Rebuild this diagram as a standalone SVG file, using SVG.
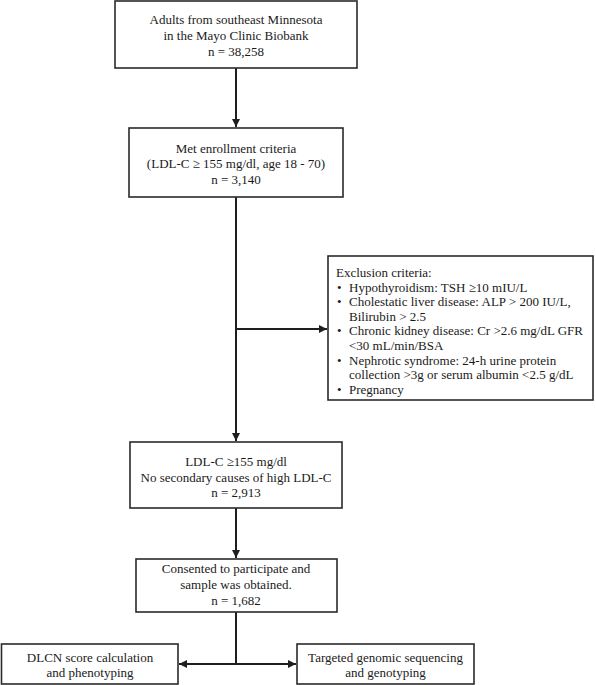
<svg xmlns="http://www.w3.org/2000/svg" width="596" height="685" viewBox="0 0 596 685">
<style>
.box{fill:#fff;stroke:#2a2a2a;stroke-width:1.6}
.t{font-family:"Liberation Serif","Times New Roman",serif;font-size:13px;fill:#1a1a1a}
.c{text-anchor:middle}
.ln{fill:none;stroke:#1e1e1e;stroke-width:2}
</style>
<defs>
<marker id="ah" viewBox="0 0 10 10" refX="10" refY="5" markerWidth="4" markerHeight="4" orient="auto-start-reverse" markerUnits="strokeWidth">
<path d="M0,0 L10,5 L0,10 z" fill="#1e1e1e"/>
</marker>
</defs>
<rect width="596" height="685" fill="#fff"/>
<g id="connectors">
<line class="ln" x1="236" y1="68" x2="236" y2="127" marker-end="url(#ah)"/>
<line class="ln" x1="236" y1="197" x2="236" y2="441" marker-end="url(#ah)"/>
<line class="ln" x1="236" y1="329" x2="327" y2="329" marker-end="url(#ah)"/>
<line class="ln" x1="236" y1="508" x2="236" y2="558" marker-end="url(#ah)"/>
<line class="ln" x1="236" y1="612" x2="236" y2="664"/>
<line class="ln" x1="179" y1="664" x2="296" y2="664" marker-start="url(#ah)" marker-end="url(#ah)"/>
</g>
<g id="n1">
<rect class="box" x="115" y="1" width="242" height="67"/>
<text class="t c" x="236" y="24">Adults from southeast Minnesota</text>
<text class="t c" x="236" y="40">in the Mayo Clinic Biobank</text>
<text class="t c" x="236" y="56">n = 38,258</text>
</g>
<g id="n2">
<rect class="box" x="129" y="128" width="214" height="69"/>
<text class="t c" x="236" y="153">Met enrollment criteria</text>
<text class="t c" x="236" y="168">(LDL-C ≥ 155 mg/dl, age 18 - 70)</text>
<text class="t c" x="236" y="184">n = 3,140</text>
</g>
<g id="exclusion">
<rect class="box" x="328" y="256" width="265" height="144"/>
<text class="t" x="336" y="277">Exclusion criteria:</text>
<text class="t" x="337" y="291.6">•</text><text class="t" x="349" y="291.6">Hypothyroidism: TSH ≥10 mIU/L</text>
<text class="t" x="337" y="306.2">•</text><text class="t" x="349" y="306.2">Cholestatic liver disease: ALP &gt; 200 IU/L,</text>
<text class="t" x="349" y="320.8">Bilirubin &gt; 2.5</text>
<text class="t" x="337" y="335.4">•</text><text class="t" x="349" y="335.4">Chronic kidney disease: Cr &gt;2.6 mg/dL GFR</text>
<text class="t" x="349" y="350">&lt;30 mL/min/BSA</text>
<text class="t" x="337" y="364.6">•</text><text class="t" x="349" y="364.6">Nephrotic syndrome: 24-h urine protein</text>
<text class="t" x="349" y="379.2">collection &gt;3g or serum albumin &lt;2.5 g/dL</text>
<text class="t" x="337" y="393.8">•</text><text class="t" x="349" y="393.8">Pregnancy</text>
</g>
<g id="n3">
<rect class="box" x="130" y="442" width="212" height="66"/>
<text class="t c" x="236" y="466">LDL-C ≥155 mg/dl</text>
<text class="t c" x="236" y="482">No secondary causes of high LDL-C</text>
<text class="t c" x="236" y="497">n = 2,913</text>
</g>
<g id="n4">
<rect class="box" x="136" y="559" width="201" height="53"/>
<text class="t c" x="236" y="573">Consented to participate and</text>
<text class="t c" x="236" y="589">sample was obtained.</text>
<text class="t c" x="236" y="605">n = 1,682</text>
</g>
<g id="n5">
<rect class="box" x="1.5" y="644" width="176.5" height="40"/>
<text class="t c" x="90" y="662">DLCN score calculation</text>
<text class="t c" x="90" y="677">and phenotyping</text>
</g>
<g id="n6">
<rect class="box" x="297" y="644" width="177" height="40"/>
<text class="t c" x="385.5" y="662">Targeted genomic sequencing</text>
<text class="t c" x="385.5" y="677">and genotyping</text>
</g>
</svg>
